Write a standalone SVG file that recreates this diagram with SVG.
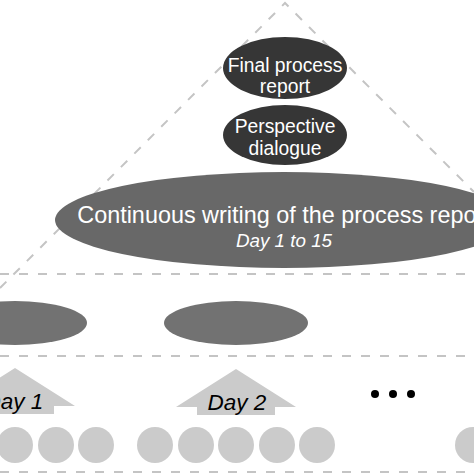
<svg xmlns="http://www.w3.org/2000/svg" width="474" height="474" viewBox="0 0 474 474">
<style>
.dash{fill:none;stroke:#c4c4c4;stroke-width:2;stroke-dasharray:9 10}
.dark{fill:#363636}
.mid{fill:#686868}
.small{fill:#727272}
.light{fill:#cbcbcb}
.wt{font-family:"Liberation Sans",Arial,sans-serif;fill:#ffffff;text-anchor:middle}
.bt{font-family:"Liberation Sans",Arial,sans-serif;fill:#000000;text-anchor:middle;font-style:italic}
</style>
<rect width="474" height="474" fill="#ffffff"/>
<g id="guides">
<polyline class="dash" points="0,288 285,3 474,192"/>
<line class="dash" x1="0" y1="274" x2="474" y2="274"/>
<line class="dash" x1="0" y1="356" x2="474" y2="356"/>
<line class="dash" x1="0" y1="472" x2="474" y2="472"/>
</g>
<g id="final-report">
<ellipse class="dark" cx="285" cy="68" rx="62" ry="31"/>
<text class="wt" x="285" y="72" font-size="19.3">Final process</text>
<text class="wt" x="285" y="93" font-size="19.3">report</text>
</g>
<g id="perspective-dialogue">
<ellipse class="dark" cx="285" cy="135" rx="62" ry="30"/>
<text class="wt" x="285" y="133" font-size="19.3">Perspective</text>
<text class="wt" x="285" y="155" font-size="19.3">dialogue</text>
</g>
<g id="continuous-writing">
<ellipse class="mid" cx="284" cy="220" rx="229" ry="48"/>
<text class="wt" x="284" y="223" font-size="23.4">Continuous writing of the process report</text>
<text class="wt" x="284" y="247" font-size="18.8" font-style="italic">Day 1 to 15</text>
</g>
<g id="day1">
<ellipse class="small" cx="15" cy="323" rx="72" ry="22"/>
<polygon class="light" points="15,368 75,406 54,406 54,414 -24,414 -24,406 -45,406"/>
<text class="bt" x="14" y="409" font-size="22.5">Day 1</text>
<circle class="light" cx="-25" cy="445" r="18"/>
<circle class="light" cx="15" cy="445" r="18"/>
<circle class="light" cx="56" cy="445" r="18"/>
<circle class="light" cx="96" cy="445" r="18"/>
</g>
<g id="day2">
<ellipse class="small" cx="236" cy="323" rx="72" ry="22"/>
<polygon class="light" points="236,369 296,407 275,407 275,415 197,415 197,407 176,407"/>
<text class="bt" x="237" y="410" font-size="22.5">Day 2</text>
<circle class="light" cx="155" cy="445" r="18"/>
<circle class="light" cx="196" cy="445" r="18"/>
<circle class="light" cx="236" cy="445" r="18"/>
<circle class="light" cx="277" cy="445" r="18"/>
<circle class="light" cx="317" cy="445" r="18"/>
</g>
<g id="more">
<circle cx="375" cy="394" r="4" fill="#000"/>
<circle cx="393" cy="394" r="4" fill="#000"/>
<circle cx="411" cy="394" r="4" fill="#000"/>
<circle class="light" cx="473" cy="445" r="18"/>
</g>
<g id="connectors"></g>
</svg>
